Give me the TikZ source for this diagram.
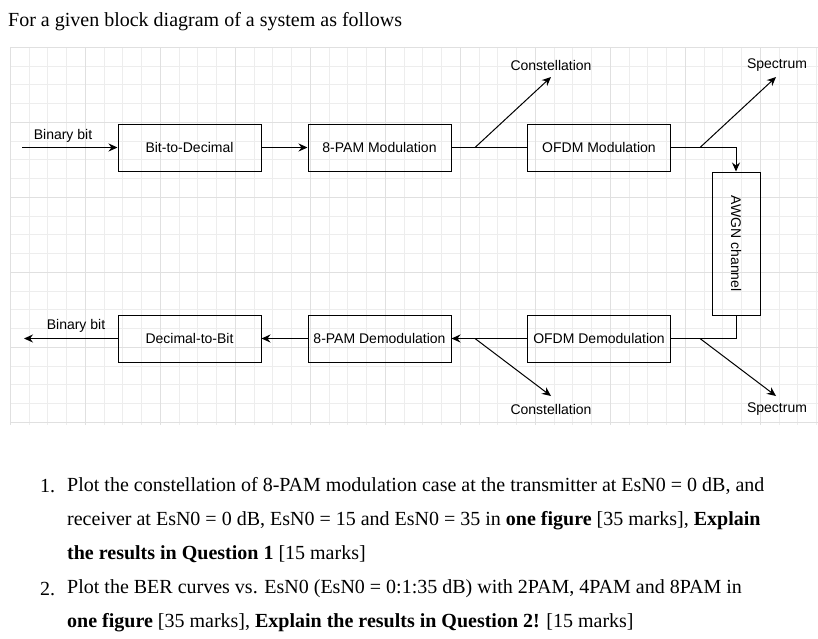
\documentclass[tikz,border=0pt]{standalone}
\usepackage{fontspec}
\setmainfont{Liberation Serif}
\newfontfamily\arial{Liberation Sans}
\usetikzlibrary{arrows.meta}
\begin{document}
\begin{tikzpicture}[x=1pt,y=-1pt,
  blk/.style={draw,line width=1pt,minimum width=143pt,minimum height=47pt,inner sep=0pt,font=\arial\fontsize{14}{16}\selectfont},
  lbl/.style={font=\arial\fontsize{14}{16}\selectfont,inner sep=0pt},
  con/.style={line width=1pt},
  arr/.style={con,-{Stealth[length=9pt,width=8pt,inset=3pt]}},
  txt/.style={anchor=west,inner sep=0pt,font=\fontsize{20}{22}\selectfont}]
\useasboundingbox (0,0) rectangle (818,638);
\fill[white] (0,0) rectangle (818,638);
\foreach \i in {0,...,43} {\draw[black!7,line width=0.5pt] (10+18.75*\i,47) -- (10+18.75*\i,425);}
\foreach \j in {0,...,20} {\draw[black!7,line width=0.5pt] (10,47+18.75*\j) -- (818,47+18.75*\j);}
\foreach \i in {0,...,10} {\draw[black!12,line width=0.6pt] (10+75*\i,47) -- (10+75*\i,425);}
\foreach \j in {0,...,5} {\draw[black!12,line width=0.6pt] (10,47+75*\j) -- (818,47+75*\j);}
\node[txt] (title) at (8,22) {For a given block diagram of a system as follows};
% blocks
\node[blk] (b2d) at (189.5,147.5) {Bit-to-Decimal};
\node[blk] (pam) at (379.5,147.5) {8-PAM Modulation};
\node[blk] (ofdm) at (599,147.5) {OFDM Modulation};
\node[blk,minimum width=48pt,minimum height=143pt] (awgn) at (736,243.5) {};
\node[lbl,rotate=-90] (awgnt) at (736,243.5) {AWGN channel};
\node[blk] (d2b) at (189.5,338.5) {Decimal-to-Bit};
\node[blk] (pamd) at (379.5,338.5) {8-PAM Demodulation};
\node[blk] (ofdmd) at (599,338.5) {OFDM Demodulation};
% coordinates
\coordinate (in) at (22,147.5);
\coordinate (out) at (24,338.5);
\coordinate (t1) at (475,147.5);
\coordinate (t2) at (700,147.5);
\coordinate (t3) at (475,338.5);
\coordinate (t4) at (700,338.5);
\coordinate (c1) at (551,77);
\coordinate (s1) at (776,77);
\coordinate (c2) at (551,396);
\coordinate (s2) at (776,396);
\node[lbl] (bin) at (63,136) {Binary bit};
\node[lbl] (bout) at (76,326) {Binary bit};
\node[lbl] (cl1) at (551,65) {Constellation};
\node[lbl] (sl1) at (777,65) {Spectrum};
\node[lbl] (cl2) at (551,409) {Constellation};
\node[lbl] (sl2) at (777,409) {Spectrum};
% connectors
\draw[arr] (in) -- (b2d);
\draw[arr] (b2d) -- (pam);
\draw[con] (pam) -- (ofdm);
\draw[arr] (t1) -- (c1);
\draw[arr] (ofdm.east) -| (awgn.north);
\draw[arr] (t2) -- (s1);
\draw[con] (awgn.south) |- (ofdmd.east);
\draw[arr] (ofdmd) -- (pamd);
\draw[arr] (t3) -- (c2);
\draw[arr] (t4) -- (s2);
\draw[arr] (pamd) -- (d2b);
\draw[arr] (d2b) -- (out);
% questions
\node[txt] (n1) at (40,486) {1.};
\node[txt] (q1a) at (67,486) {Plot the constellation of 8-PAM modulation case at the transmitter at EsN0 = 0 dB, and};
\node[txt] (q1b) at (67,521) {receiver at EsN0 = 0 dB, EsN0 = 15 and EsN0 = 35 in \textbf{one figure} [35 marks], \textbf{Explain}};
\node[txt] (q1c) at (67,554) {\textbf{the results in Question 1} [15 marks]};
\node[txt] (n2) at (40,589) {2.};
\node[txt] (q2a) at (67,589) {Plot the BER curves vs. EsN0 (EsN0 = 0:1:35 dB) with 2PAM, 4PAM and 8PAM in};
\node[txt] (q2b) at (67,623) {\textbf{one figure} [35 marks], \textbf{Explain the results in Question 2!} [15 marks]};
\end{tikzpicture}
\end{document}
